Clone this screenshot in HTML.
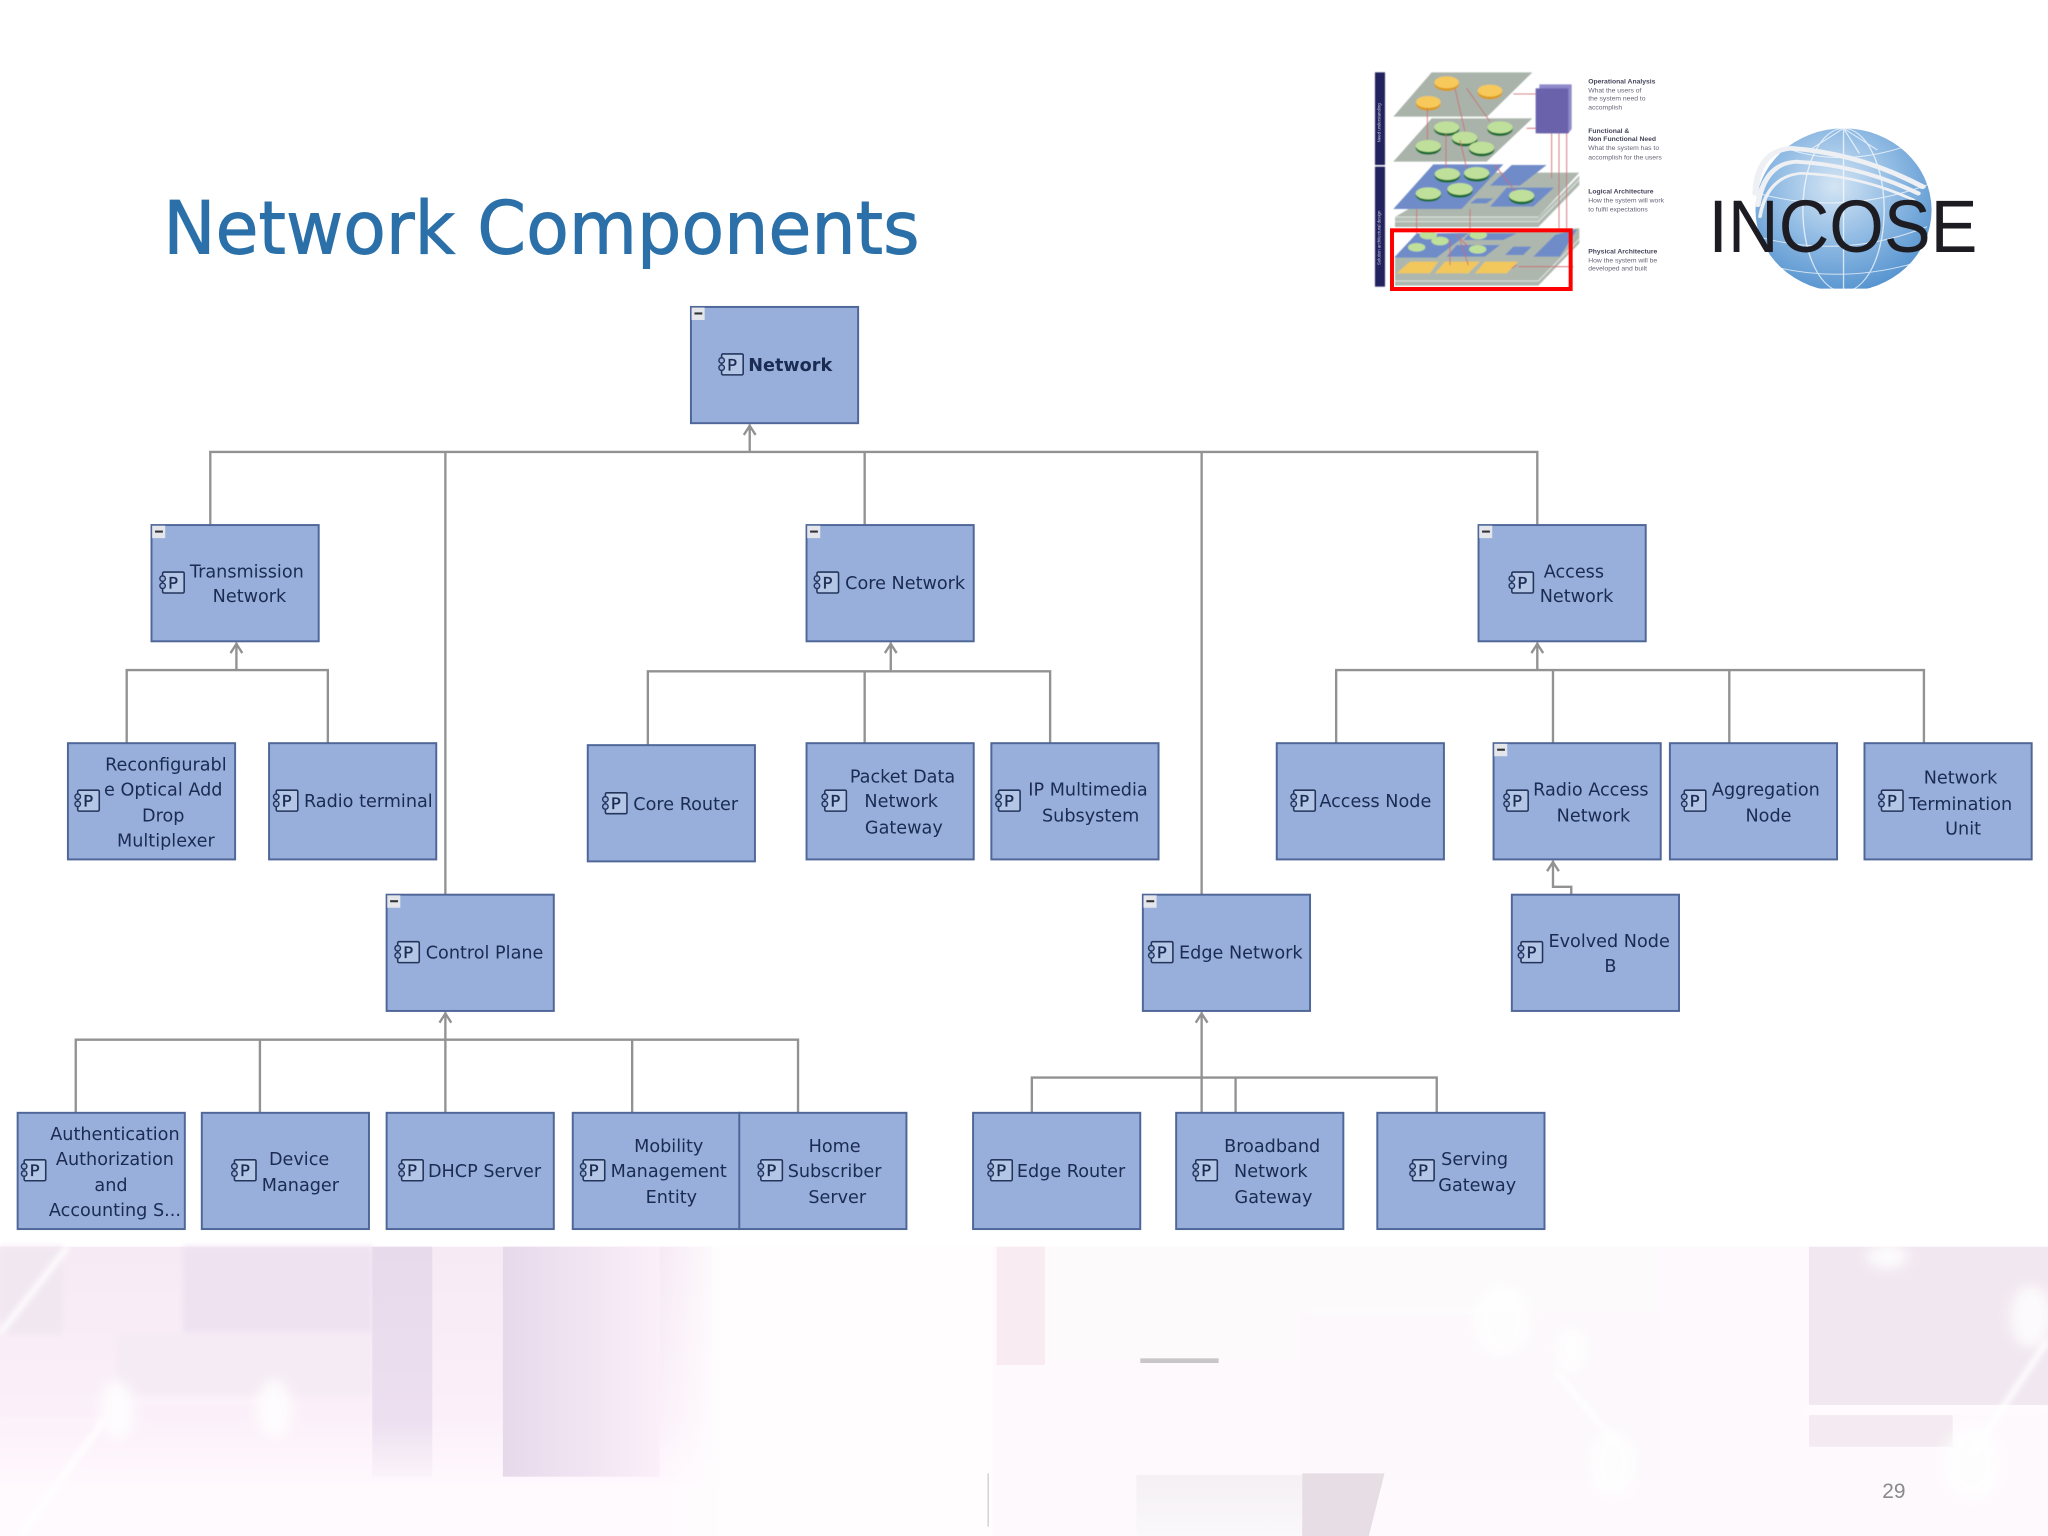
<!DOCTYPE html>
<html><head><meta charset="utf-8"><style>
html,body{margin:0;padding:0;background:#fff}
svg{display:block;width:2048px;height:1536px;filter:blur(.35px)}
.b{fill:#97afda;stroke:#4f6698;stroke-width:1.5}
.t{font:13.5px "DejaVu Sans",sans-serif;fill:#1b2b52;text-anchor:middle}
.p{font:12.5px "DejaVu Sans",sans-serif;fill:#1b2b52;text-anchor:middle;stroke:#1b2b52;stroke-width:.25}
.c{fill:none;stroke:#929292;stroke-width:1.8}
.k{font:5.2px "Liberation Sans",sans-serif;fill:#66667a}
.kb{font:bold 5.2px "Liberation Sans",sans-serif;fill:#44445a}
</style></head><body>
<svg xmlns="http://www.w3.org/2000/svg" viewBox="0 0 1568 1176">
<defs>
<filter id="bl" x="-20%" y="-20%" width="140%" height="140%"><feGaussianBlur stdDeviation="2 10"/></filter>
<filter id="bw" x="-30%" y="-30%" width="160%" height="160%"><feGaussianBlur stdDeviation="5 16"/></filter>
<filter id="sb"><feGaussianBlur stdDeviation="1.6"/></filter>
<filter id="sl"><feGaussianBlur stdDeviation="0.8"/></filter>
<filter id="tb"><feGaussianBlur stdDeviation="0.25"/></filter>
<linearGradient id="l1" x1="0" x2="1" y1="0" y2="0"><stop offset="0" stop-color="#e6d9ea"/><stop offset="1" stop-color="#fbeffa"/></linearGradient>
<linearGradient id="a" x1="0" x2="0" y1="0" y2="1"><stop offset="0" stop-color="#f6eaf5"/><stop offset=".7" stop-color="#fbf0f9"/><stop offset="1" stop-color="#fff9fe"/></linearGradient>
<linearGradient id="d" x1="0" x2="0" y1="0" y2="1"><stop offset="0" stop-color="#e7dbeb"/><stop offset=".75" stop-color="#ecdff0"/><stop offset="1" stop-color="#fbf3fa"/></linearGradient>
<linearGradient id="s" x1="0" x2="0" y1="0" y2="1"><stop offset="0" stop-color="#f4f0f4"/><stop offset="1" stop-color="#fbf8fb"/></linearGradient>
<linearGradient id="h" x1="0" x2="1" y1="0" y2="0"><stop offset="0" stop-color="#fffdfe" stop-opacity="0"/><stop offset=".2" stop-color="#fffdfe"/></linearGradient>
<radialGradient id="gl" cx="45%" cy="35%" r="70%"><stop offset="0" stop-color="#d4e5f4"/><stop offset=".5" stop-color="#8fbae3"/><stop offset="1" stop-color="#4f8fcd"/></radialGradient>
<clipPath id="gc"><rect x="800" y="200" width="620" height="516"/></clipPath>
<g id="i"><rect x="-6.500" y="-8" width="16.500" height="16" rx="1" fill="#b3c6e6" stroke="#24355c" stroke-width="1.2"/><circle cx="-6.500" cy="-3" r="2.100" fill="#97afda" stroke="#24355c" stroke-width="1.100"/><circle cx="-6.500" cy="2.500" r="2.100" fill="#97afda" stroke="#24355c" stroke-width="1.100"/></g>
<g id="m"><rect x="-.5" y="-.5" width="10" height="9.500" fill="#e4e6ec"/><rect x="1.700" y="3.200" width="6" height="1.600" fill="#333"/></g>
</defs>

<!-- bottom background -->
<g transform="translate(0,949.4) scale(1,.2552)">
<rect x="0" y="20" width="1568" height="868" fill="#fef9fd"/>
<rect x="0" y="20" width="545" height="720" fill="url(#a)"/>
<rect x="140" y="20" width="145" height="265" fill="#eee2f1" filter="url(#bl)"/>
<rect x="0" y="20" width="48" height="260" fill="#f1e7f1" filter="url(#bl)"/>
<rect x="90" y="280" width="195" height="190" fill="#f5ebf4" filter="url(#bl)"/>
<rect x="285" y="20" width="46" height="690" fill="url(#d)"/>
<rect x="385" y="20" width="120" height="690" fill="url(#l1)"/>
<rect x="0" y="740" width="760" height="148" fill="#fffafe"/>
<rect x="505" y="20" width="255" height="868" fill="url(#h)"/>
<rect x="763" y="20" width="37" height="355" fill="#f8ebf1"/>
<rect x="800" y="20" width="470" height="340" fill="#fcfafb"/>
<rect x="995" y="220" width="275" height="500" fill="#fcf8fb"/>
<rect x="1385" y="20" width="183" height="475" fill="#f1e7f0"/>
<rect x="1385" y="525" width="110" height="95" fill="#f3ebf1"/>
<rect x="870" y="705" width="127" height="183" fill="url(#s)"/>
<polygon points="997,700 1060,700 1048,888 997,888" fill="#e7dde4"/>
<rect x="873" y="355" width="60" height="14" fill="#c9c6ca"/>
<rect x="756" y="700" width="1.200" height="160" fill="#d8d3d8"/>
<g filter="url(#bl)"><path d="M52 20 L0 280M80 540 L15 888M1568 300 L1510 640M1380 510H1568M0 545H80M105 480H205M1000 210H1140M1190 390L1240 620" stroke="#fff" stroke-width="5" fill="none"/></g>
<g fill="#fff" opacity=".8" filter="url(#bw)"><ellipse cx="90" cy="510" rx="13" ry="90"/><ellipse cx="210" cy="505" rx="13" ry="90"/><ellipse cx="1150" cy="240" rx="22" ry="110"/><ellipse cx="1203" cy="330" rx="12" ry="70"/><ellipse cx="1235" cy="670" rx="18" ry="100"/><ellipse cx="1510" cy="670" rx="22" ry="110"/><ellipse cx="1555" cy="230" rx="16" ry="95"/><ellipse cx="1445" cy="50" rx="16" ry="38"/></g>
</g>
<text x="1450" y="1147" font-family="Liberation Sans,sans-serif" font-size="16" fill="#8a8a8a" text-anchor="middle">29</text>

<!-- title -->
<text x="125" y="194" font-family="DejaVu Sans,sans-serif" font-size="56" fill="#2b70a8" stroke="#2b70a8" stroke-width=".7" textLength="579" lengthAdjust="spacingAndGlyphs">Network Components</text>

<!-- thumbnail -->
<g transform="translate(1048.9,49.77) scale(.2552)">
<g filter="url(#sb)">
<rect x="15" y="22" width="30" height="278" fill="#23215e"/>
<rect x="15" y="305" width="30" height="360" fill="#23215e"/>
<polygon points="75,486 505,486 628,360 628,345 505,470 75,470" fill="#aeb8af"/>
<polygon points="75,470 505,470 628,345 628,332 505,456 75,456" fill="#b7c1b8"/>
<polygon points="300,323 628,323 505,456 75,456" fill="#adb7ae"/>
<path d="M75 470H505L628 345M75 456H505" stroke="#eef0ee" stroke-width="2" fill="none"/>
<polygon points="75,662 505,662 628,535 628,520 505,645 75,645" fill="#aeb8af"/>
<polygon points="200,505 628,490 628,520 505,645 75,645 75,580" fill="#adb7ae"/>
<path d="M75 648H505L628 522" stroke="#eef0ee" stroke-width="2" fill="none"/>
<polygon points="185,22 487,22 352,155 70,155" fill="#a9b3aa"/>
<polygon points="185,160 487,160 350,290 70,290" fill="#a9b3aa"/>
<polygon points="190,298 400,298 275,432 70,432" fill="#6f8cc8"/>
<polygon points="425,300 530,300 450,362 360,362" fill="#6f8cc8"/>
<polygon points="410,368 552,368 490,425 360,425" fill="#6f8cc8"/>
<polygon points="320,400 370,400 350,415 300,415" fill="#6f8cc8"/>
<polygon points="140,505 295,505 200,578 72,578" fill="#6f8cc8"/>
<polygon points="300,505 440,505 400,525 280,525" fill="#6f8cc8"/>
<polygon points="260,540 390,540 345,575 230,575" fill="#6f8cc8"/>
<polygon points="430,545 485,545 460,570 405,570" fill="#6f8cc8"/>
<polygon points="555,510 622,492 570,575 490,575" fill="#6f8cc8"/>
<polygon points="120,590 205,590 180,625 80,625" fill="#f2c75c"/>
<polygon points="225,590 330,590 295,625 195,625" fill="#f2c75c"/>
<polygon points="345,590 445,590 410,625 315,625" fill="#f2c75c"/>
<polygon points="508,58 605,58 605,192 595,205 508,205" fill="#8f8acb"/>
<rect x="497" y="70" width="98" height="135" fill="#6a64ab"/>
<g fill="#d99a22"><ellipse cx="230" cy="58" rx="37" ry="20"/><ellipse cx="360" cy="83" rx="37" ry="20"/><ellipse cx="175" cy="117" rx="37" ry="20"/></g>
<g fill="#f6c95a"><ellipse cx="230" cy="52" rx="37" ry="18"/><ellipse cx="360" cy="77" rx="37" ry="18"/><ellipse cx="175" cy="111" rx="37" ry="18"/></g>
<g fill="#176b33"><ellipse cx="230" cy="193" rx="38" ry="20"/><ellipse cx="390" cy="193" rx="38" ry="20"/><ellipse cx="284" cy="224" rx="38" ry="20"/><ellipse cx="175" cy="249" rx="38" ry="20"/><ellipse cx="335" cy="254" rx="38" ry="20"/><ellipse cx="232" cy="333" rx="38" ry="20"/><ellipse cx="320" cy="330" rx="38" ry="20"/><ellipse cx="270" cy="378" rx="38" ry="20"/><ellipse cx="175" cy="390" rx="38" ry="20"/><ellipse cx="455" cy="398" rx="38" ry="20"/></g>
<g fill="#bfe09a"><ellipse cx="230" cy="187" rx="38" ry="18"/><ellipse cx="390" cy="187" rx="38" ry="18"/><ellipse cx="284" cy="218" rx="38" ry="18"/><ellipse cx="175" cy="243" rx="38" ry="18"/><ellipse cx="335" cy="248" rx="38" ry="18"/><ellipse cx="232" cy="327" rx="38" ry="18"/><ellipse cx="320" cy="324" rx="38" ry="18"/><ellipse cx="270" cy="372" rx="38" ry="18"/><ellipse cx="175" cy="385" rx="38" ry="18"/><ellipse cx="455" cy="392" rx="38" ry="18"/><ellipse cx="175" cy="510" rx="26" ry="13"/><ellipse cx="325" cy="510" rx="26" ry="13"/><ellipse cx="210" cy="528" rx="26" ry="13"/><ellipse cx="140" cy="547" rx="26" ry="13"/><ellipse cx="323" cy="553" rx="26" ry="13"/></g>
<path d="M172 130V225M255 70L285 200M290 70L360 170M228 205V310M270 225L290 310M375 300L435 378M545 205V340M567 205V490M590 205V490M140 432V505M300 432V500M240 525V600M270 525L295 600M440 600L425 610M445 605H610M430 87H497M470 190H497M260 510L295 545" stroke="#cc5f66" stroke-width="2.400" fill="none"/>
</g>
<rect x="66" y="496" width="536" height="176" fill="none" stroke="#f00" stroke-width="12"/>
<g filter="url(#tb)">
<text x="32" y="232" transform="rotate(-90 32 232)" font-family="Liberation Sans,sans-serif" font-size="13" fill="#cfcfe6">Need understanding</text>
<text x="32" y="600" transform="rotate(-90 32 600)" font-family="Liberation Sans,sans-serif" font-size="13" fill="#cfcfe6">Solution architectural design</text>
</g>
</g>
<!-- INCOSE logo -->
<g transform="translate(1026,38.3) scale(.3457,.2552)">
<g clip-path="url(#gc)" filter="url(#sl)">
<ellipse cx="1115" cy="480" rx="195" ry="245" fill="url(#gl)"/>
<g fill="none" stroke="#fff" stroke-width="3" opacity=".7">
<ellipse cx="1115" cy="480" rx="90" ry="245"/><path d="M1115 235V725"/>
<path d="M925 430Q1115 500 1310 400M925 560Q1115 630 1300 530M960 650Q1115 700 1270 640M1000 300Q1115 350 1250 290"/>
<path d="M1115 235L1040 300M1115 235L1190 300M1115 235L1150 310"/>
</g>
<g fill="none" stroke="#eef0f4" stroke-linecap="round">
<path d="M920 430Q925 300 1000 295Q1150 310 1290 410" stroke-width="14"/>
<path d="M925 465Q940 340 1010 335Q1150 345 1280 430" stroke-width="12"/>
<path d="M930 500Q945 380 1020 370Q1150 375 1270 450" stroke-width="8"/>
</g>
</g>
</g>
<text x="1308" y="193" font-family="Liberation Sans,sans-serif" font-size="57" fill="#1c1c22" textLength="206" lengthAdjust="spacingAndGlyphs">INCOSE</text>
<g filter="url(#tb)">
<text class="kb" x="1216" y="64">Operational Analysis</text><text class="k" x="1216" y="71">What the users of</text><text class="k" x="1216" y="77">the system need to</text><text class="k" x="1216" y="84">accomplish</text>
<text class="kb" x="1216" y="102">Functional &amp;</text><text class="kb" x="1216" y="108">Non Functional Need</text><text class="k" x="1216" y="115">What the system has to</text><text class="k" x="1216" y="122">accomplish for the users</text>
<text class="kb" x="1216" y="148">Logical Architecture</text><text class="k" x="1216" y="155">How the system will work</text><text class="k" x="1216" y="162">to fulfil expectations</text>
<text class="kb" x="1216" y="194">Physical Architecture</text><text class="k" x="1216" y="201">How the system will be</text><text class="k" x="1216" y="207">developed and built</text>
</g>

<!-- connectors -->
<g class="c">
<path d="M161 402V346H1177V402M341 346V685M662 346V402M920 346V685M574 346V325M569.5 333L574 326L578.5 333"/>
<path d="M97 569V513H251V569M181 513V492M176.5 500L181 493L185.500 500"/>
<path d="M496 570V514H804V569M662 514V569M682 514V492M677.500 500L682 493L686.500 500"/>
<path d="M1023 569V513H1473V569M1189 513V569M1324 513V569M1177 513V492M1172.500 500L1177 493L1181.500 500"/>
<path d="M1203 685V679H1189V659M1184.500 667L1189 660L1193.500 667"/>
<path d="M58 852V796H611V852M199 796V852M341 852V775M484 796V852M336.500 783L341 776L345.500 783"/>
<path d="M790 852V825H1100V852M946 825V852M920 852V775M915.500 783L920 776L924.500 783"/>
</g>

<!-- boxes -->
<rect class="b" x="529" y="235" width="128" height="89"/><rect class="b" x="116" y="402" width="128" height="89"/><rect class="b" x="617.500" y="402" width="128" height="89"/><rect class="b" x="1132" y="402" width="128" height="89"/>
<rect class="b" x="52" y="569" width="128" height="89"/><rect class="b" x="206" y="569" width="128" height="89"/><rect class="b" x="450" y="570.500" width="128" height="89"/><rect class="b" x="617.500" y="569" width="128" height="89"/><rect class="b" x="759" y="569" width="128" height="89"/><rect class="b" x="977.500" y="569" width="128" height="89"/><rect class="b" x="1143.500" y="569" width="128" height="89"/><rect class="b" x="1278.500" y="569" width="128" height="89"/><rect class="b" x="1427.500" y="569" width="128" height="89"/>
<rect class="b" x="296" y="685" width="128" height="89"/><rect class="b" x="875" y="685" width="128" height="89"/><rect class="b" x="1157.500" y="685" width="128" height="89"/>
<rect class="b" x="13.500" y="852" width="128" height="89"/><rect class="b" x="154.500" y="852" width="128" height="89"/><rect class="b" x="296" y="852" width="128" height="89"/><rect class="b" x="438.500" y="852" width="128" height="89"/><rect class="b" x="566" y="852" width="128" height="89"/><rect class="b" x="745" y="852" width="128" height="89"/><rect class="b" x="900.500" y="852" width="128" height="89"/><rect class="b" x="1054.500" y="852" width="128" height="89"/>

<!-- collapse markers -->
<use href="#m" x="530" y="236"/><use href="#m" x="117" y="403"/><use href="#m" x="618.500" y="403"/><use href="#m" x="1133" y="403"/><use href="#m" x="1144.500" y="570"/><use href="#m" x="297" y="686"/><use href="#m" x="876" y="686"/>

<!-- icons -->
<use href="#i" x="559" y="279"/><text class="p" x="560.500" y="283.500">P</text>
<use href="#i" x="131" y="446"/><text class="p" x="132.500" y="450.500">P</text>
<use href="#i" x="632" y="446"/><text class="p" x="633.500" y="450.500">P</text>
<use href="#i" x="1164" y="446"/><text class="p" x="1165.500" y="450.500">P</text>
<use href="#i" x="66" y="613"/><text class="p" x="67.500" y="617.500">P</text>
<use href="#i" x="218" y="613"/><text class="p" x="219.500" y="617.500">P</text>
<use href="#i" x="470" y="615"/><text class="p" x="471.500" y="619.500">P</text>
<use href="#i" x="638" y="613"/><text class="p" x="639.500" y="617.500">P</text>
<use href="#i" x="771" y="613"/><text class="p" x="772.500" y="617.500">P</text>
<use href="#i" x="997" y="613"/><text class="p" x="998.500" y="617.500">P</text>
<use href="#i" x="1160" y="613"/><text class="p" x="1161.500" y="617.500">P</text>
<use href="#i" x="1296" y="613"/><text class="p" x="1297.500" y="617.500">P</text>
<use href="#i" x="1447" y="613"/><text class="p" x="1448.500" y="617.500">P</text>
<use href="#i" x="311" y="729"/><text class="p" x="312.500" y="733.500">P</text>
<use href="#i" x="888" y="729"/><text class="p" x="889.500" y="733.500">P</text>
<use href="#i" x="1171" y="729"/><text class="p" x="1172.500" y="733.500">P</text>
<use href="#i" x="25" y="896"/><text class="p" x="26.500" y="900.500">P</text>
<use href="#i" x="186" y="896"/><text class="p" x="187.500" y="900.500">P</text>
<use href="#i" x="314" y="896"/><text class="p" x="315.500" y="900.500">P</text>
<use href="#i" x="453" y="896"/><text class="p" x="454.500" y="900.500">P</text>
<use href="#i" x="589" y="896"/><text class="p" x="590.500" y="900.500">P</text>
<use href="#i" x="765" y="896"/><text class="p" x="766.500" y="900.500">P</text>
<use href="#i" x="922" y="896"/><text class="p" x="923.500" y="900.500">P</text>
<use href="#i" x="1088" y="896"/><text class="p" x="1089.500" y="900.500">P</text>

<!-- labels -->
<text class="t" x="605" y="284" style="font-weight:bold">Network</text>
<text class="t" x="189" y="442">Transmission</text><text class="t" x="191" y="461">Network</text>
<text class="t" x="693" y="451">Core Network</text>
<text class="t" x="1205" y="442">Access</text><text class="t" x="1207" y="461">Network</text>
<text class="t" x="127" y="590">Reconfigurabl</text><text class="t" x="125" y="609">e Optical Add</text><text class="t" x="125" y="629">Drop</text><text class="t" x="127" y="648">Multiplexer</text>
<text class="t" x="282" y="618">Radio terminal</text>
<text class="t" x="525" y="620">Core Router</text>
<text class="t" x="691" y="599">Packet Data</text><text class="t" x="690" y="618">Network</text><text class="t" x="692" y="638">Gateway</text>
<text class="t" x="833" y="609">IP Multimedia</text><text class="t" x="835" y="629">Subsystem</text>
<text class="t" x="1053" y="618">Access Node</text>
<text class="t" x="1218" y="609">Radio Access</text><text class="t" x="1220" y="629">Network</text>
<text class="t" x="1352" y="609">Aggregation</text><text class="t" x="1354" y="629">Node</text>
<text class="t" x="1501" y="600">Network</text><text class="t" x="1501" y="620">Termination</text><text class="t" x="1503" y="639">Unit</text>
<text class="t" x="371" y="734">Control Plane</text>
<text class="t" x="950" y="734">Edge Network</text>
<text class="t" x="1232" y="725">Evolved Node</text><text class="t" x="1233" y="744">B</text>
<text class="t" x="88" y="873">Authentication</text><text class="t" x="88" y="892">Authorization</text><text class="t" x="85" y="912">and</text><text class="t" x="88" y="931">Accounting S...</text>
<text class="t" x="229" y="892">Device</text><text class="t" x="230" y="912">Manager</text>
<text class="t" x="371" y="901">DHCP Server</text>
<text class="t" x="512" y="882">Mobility</text><text class="t" x="512" y="901">Management</text><text class="t" x="514" y="921">Entity</text>
<text class="t" x="639" y="882">Home</text><text class="t" x="639" y="901">Subscriber</text><text class="t" x="641" y="921">Server</text>
<text class="t" x="820" y="901">Edge Router</text>
<text class="t" x="974" y="882">Broadband</text><text class="t" x="973" y="901">Network</text><text class="t" x="975" y="921">Gateway</text>
<text class="t" x="1129" y="892">Serving</text><text class="t" x="1131" y="912">Gateway</text>
</svg>
</body></html>
